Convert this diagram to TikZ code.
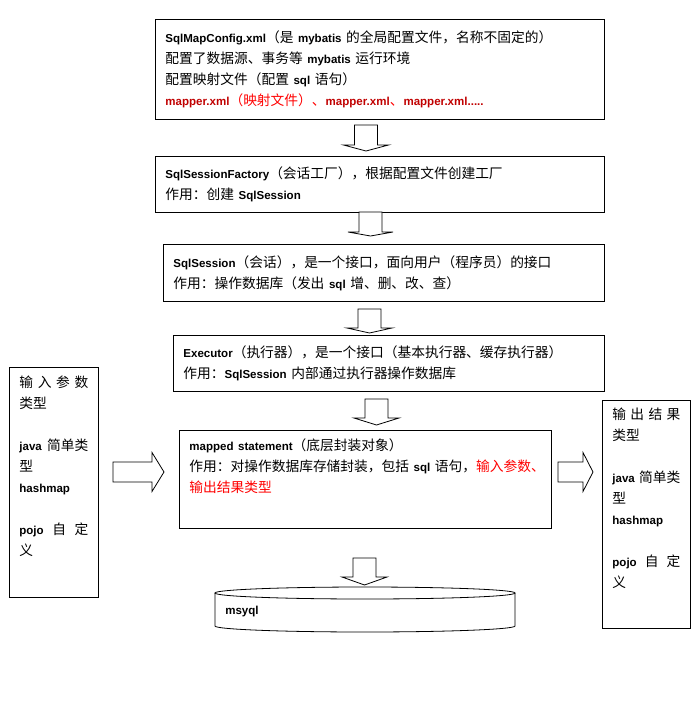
\documentclass[tikz,border=0pt]{standalone}
\usepackage{fontspec}
\setmainfont{Noto Sans CJK SC}
\newfontfamily\enfont[Scale=0.84]{Liberation Sans}
\newcommand\en[1]{{\enfont\bfseries #1}}
\definecolor{mapred}{RGB}{192,0,0}

\begin{document}
\begin{tikzpicture}[x=0.75pt,y=-0.75pt, % one unit = one pixel, y downwards
  every node/.style={font=\fontsize{10.3}{15.75}\selectfont},
  box/.style={draw, line width=0.6pt, anchor=north west, align=left, inner xsep=7.5pt, inner ysep=0pt},
  blockarrow/.style={draw, fill=white, line width=0.6pt}]
\useasboundingbox (0,0) rectangle (693,707);

% main chain
\node[box, text width=321.75pt, minimum height=75pt] (cfg) at (155,19) {%
\en{SqlMapConfig.xml}（是 \en{mybatis} 的全局配置文件，名称不固定的）\\
配置了数据源、事务等 \en{mybatis} 运行环境\\
配置映射文件（配置 \en{sql} 语句）\\
\textcolor{mapred}{\en{mapper.xml}}\textcolor{red}{（映射文件）、}\textcolor{mapred}{\en{mapper.xml}}\textcolor{red}{、}\textcolor{mapred}{\en{mapper.xml.....}}};
\node[box, text width=321.75pt, minimum height=42pt] (factory) at (155,156) {%
\en{SqlSessionFactory}（会话工厂），根据配置文件创建工厂\\
作用：创建 \en{SqlSession}};
\node[box, text width=315.75pt, minimum height=42.75pt] (session) at (163,244) {%
\en{SqlSession}（会话），是一个接口，面向用户（程序员）的接口\\
作用：操作数据库（发出 \en{sql} 增、删、改、查）};
\node[box, text width=308.25pt, minimum height=42pt] (executor) at (173,335) {%
\en{Executor}（执行器），是一个接口（基本执行器、缓存执行器）\\
作用：\en{SqlSession} 内部通过执行器操作数据库};
\node[box, text width=264pt, minimum height=73.5pt] (stmt) at (179,430) {%
\en{mapped statement}（底层封装对象）\\
\mbox{作用：对操作数据库存储封装，包括 \en{sql} 语句，\textcolor{red}{输入参数、}}\\
\textcolor{red}{输出结果类型}\\[5pt]\mbox{}};

% input / output types
\node[box, text width=51.75pt, minimum height=172.5pt] (in) at (9,367) {%
输\hfill 入\hfill 参\hfill 数\\
类型\\[15.75pt]
\en{java}\hfill 简单类\\
型\\
\en{hashmap}\\[15.75pt]
\en{pojo}\hfill 自\hfill 定\\
义\\[8.75pt]\mbox{}};
\node[box, text width=51pt, minimum height=171pt] (out) at (602,400) {%
输\hfill 出\hfill 结\hfill 果\\
类型\\[15.75pt]
\en{java}\hfill 简单类\\
型\\
\en{hashmap}\\[15.75pt]
\en{pojo}\hfill 自\hfill 定\\
义\\[8.75pt]\mbox{}};

% database
\draw[line width=0.6pt, fill=white] (215,593) -- (215,626) arc[start angle=180, end angle=0, x radius=150, y radius=6] -- (515,593);
\draw[line width=0.6pt] (365,593) ellipse[x radius=150, y radius=6];
\node[anchor=west, inner sep=0pt] (db) at (225,612) {\en{msyql}};

% block arrows: centre / top / head / tip
\foreach \cx/\ty/\hy/\tip in {366/125/145/151, 370.5/212/232/236, 369.5/309/328/333, 376.5/399/418/425, 364.5/558/577/585}
  \draw[blockarrow] (\cx-11.5,\ty) -- (\cx+11.5,\ty) -- (\cx+11.5,\hy) -- (\cx+22.5,\hy) -- (\cx,\tip) -- (\cx-22.5,\hy) -- (\cx-11.5,\hy) -- cycle;
\foreach \lx/\hx/\tip in {113/152/164, 558/583/593}
  \draw[blockarrow] (\lx,462) -- (\hx,462) -- (\hx,452.5) -- (\tip,472) -- (\hx,491.5) -- (\hx,482) -- (\lx,482) -- cycle;
\end{tikzpicture}
\end{document}
